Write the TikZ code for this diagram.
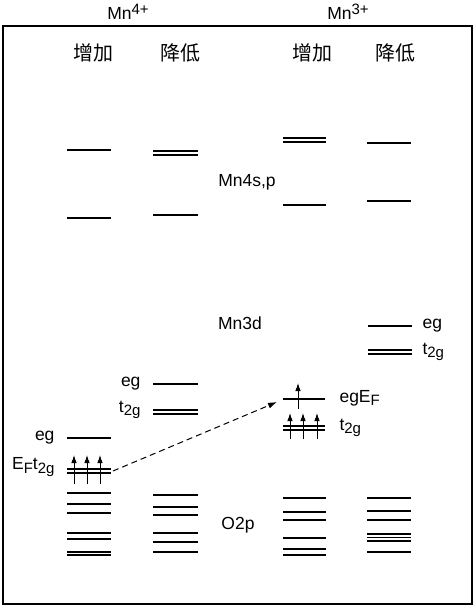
\documentclass[tikz,border=0pt]{standalone}
\usepackage{fontspec}
\setmainfont{Liberation Sans}
\newfontfamily\cjk{Noto Sans CJK SC}
\usetikzlibrary{arrows.meta}
\newcommand{\lowsub}[1]{\raisebox{-0.35ex}{\fontsize{15}{17}\selectfont #1}}
\newcommand{\highsup}[1]{\raisebox{0.55ex}{\fontsize{15}{17}\selectfont #1}}

\begin{document}
\begin{tikzpicture}[x=1pt,y=-1pt,font=\fontsize{17.5}{20}\selectfont,
    lvl/.style={line width=1.2pt},
    thk/.style={line width=2pt},
    zh/.style={font=\cjk\fontsize{20}{23}\selectfont},
    spin/.style={-{Latex[length=8pt,width=5.5pt]},line width=0.9pt}]
    \useasboundingbox (0,0) rectangle (474,606);
    \draw[line width=1.5pt] (3,26) rectangle (472,604);
    % ion labels
    \node (mnfour) at (128,12) {Mn\highsup{4+}};
    \node (mnthree) at (348,12) {Mn\highsup{3+}};
    \node[zh] (upa) at (93,53) {增加};
    \node[zh] (dna) at (180,53) {降低};
    \node[zh] (upb) at (312,53) {增加};
    \node[zh] (dnb) at (395,53) {降低};
    % Mn4s,p
    \draw[lvl] (67,150)--(111,150);
    \draw[lvl] (67,218)--(111,218);
    \draw[lvl] (153,151)--(198,151);
    \draw[lvl] (153,155)--(198,155);
    \draw[lvl] (153,215)--(198,215);
    \draw[lvl] (283,138)--(326,138);
    \draw[lvl] (283,142)--(326,142);
    \draw[lvl] (283,205)--(326,205);
    \draw[thk] (367,143)--(411,143);
    \draw[lvl] (367,201)--(411,201);
    \node (sp) at (247,182) {Mn4s,p};
    % Mn3d
    \node (d) at (240,323) {Mn3d};
    \draw[thk] (153,384)--(198,384);
    \node[anchor=east] (ega) at (144,384) {eg};
    \draw[lvl] (153,410)--(198,410);
    \draw[lvl] (153,414)--(198,414);
    \node[anchor=east] (tga) at (144,410) {t\lowsub{2g}};
    \draw[lvl] (67,438)--(111,438);
    \node[anchor=east] (egb) at (58,438) {eg};
    \draw[lvl] (67,469)--(111,469);
    \draw[lvl] (67,473)--(111,473);
    \node[anchor=east] (tgb) at (58,467) {E\lowsub{F}t\lowsub{2g}};
    \draw[spin] (74,484)--(74,455);
    \draw[spin] (87,484)--(87,455);
    \draw[spin] (100,484)--(100,455);
    \draw[lvl] (368,326)--(412,326);
    \node[anchor=west] (egc) at (419,326) {eg};
    \draw[lvl] (368,350)--(412,350);
    \draw[lvl] (368,354)--(412,354);
    \node[anchor=west] (tgc) at (419,352) {t\lowsub{2g}};
    \draw[lvl] (283,399)--(325,399);
    \draw[spin] (298,409)--(298,383);
    \node[anchor=west] (egd) at (336,398) {egE\lowsub{F}};
    \draw[lvl] (283,426)--(325,426);
    \draw[lvl] (283,430)--(325,430);
    \draw[spin] (290,439)--(290,413);
    \draw[spin] (303,439)--(303,413);
    \draw[spin] (317,439)--(317,413);
    \node[anchor=west] (tgd) at (336,428) {t\lowsub{2g}};
    % transfer
    \coordinate (ft) at (113,471);
    \coordinate (ef) at (277,402);
    \draw[dash pattern=on 6pt off 4pt,line width=1pt,-{Latex[length=9pt,width=6pt]}] (ft)--(ef);
    % O2p
    \foreach \y in {493,504,513,533,539,552,555}
        \draw[lvl] (67,\y)--(111,\y);
    \foreach \y in {495,507,515,533,542,552}
        \draw[lvl] (153,\y)--(198,\y);
    \foreach \y in {498,512,520,538,549,555}
        \draw[lvl] (283,\y)--(326,\y);
    \foreach \y in {498,511,520,534,537.5,541,552}
        \draw[lvl] (367,\y)--(411,\y);
    \node (op) at (238,525) {O2p};
\end{tikzpicture}
\end{document}
